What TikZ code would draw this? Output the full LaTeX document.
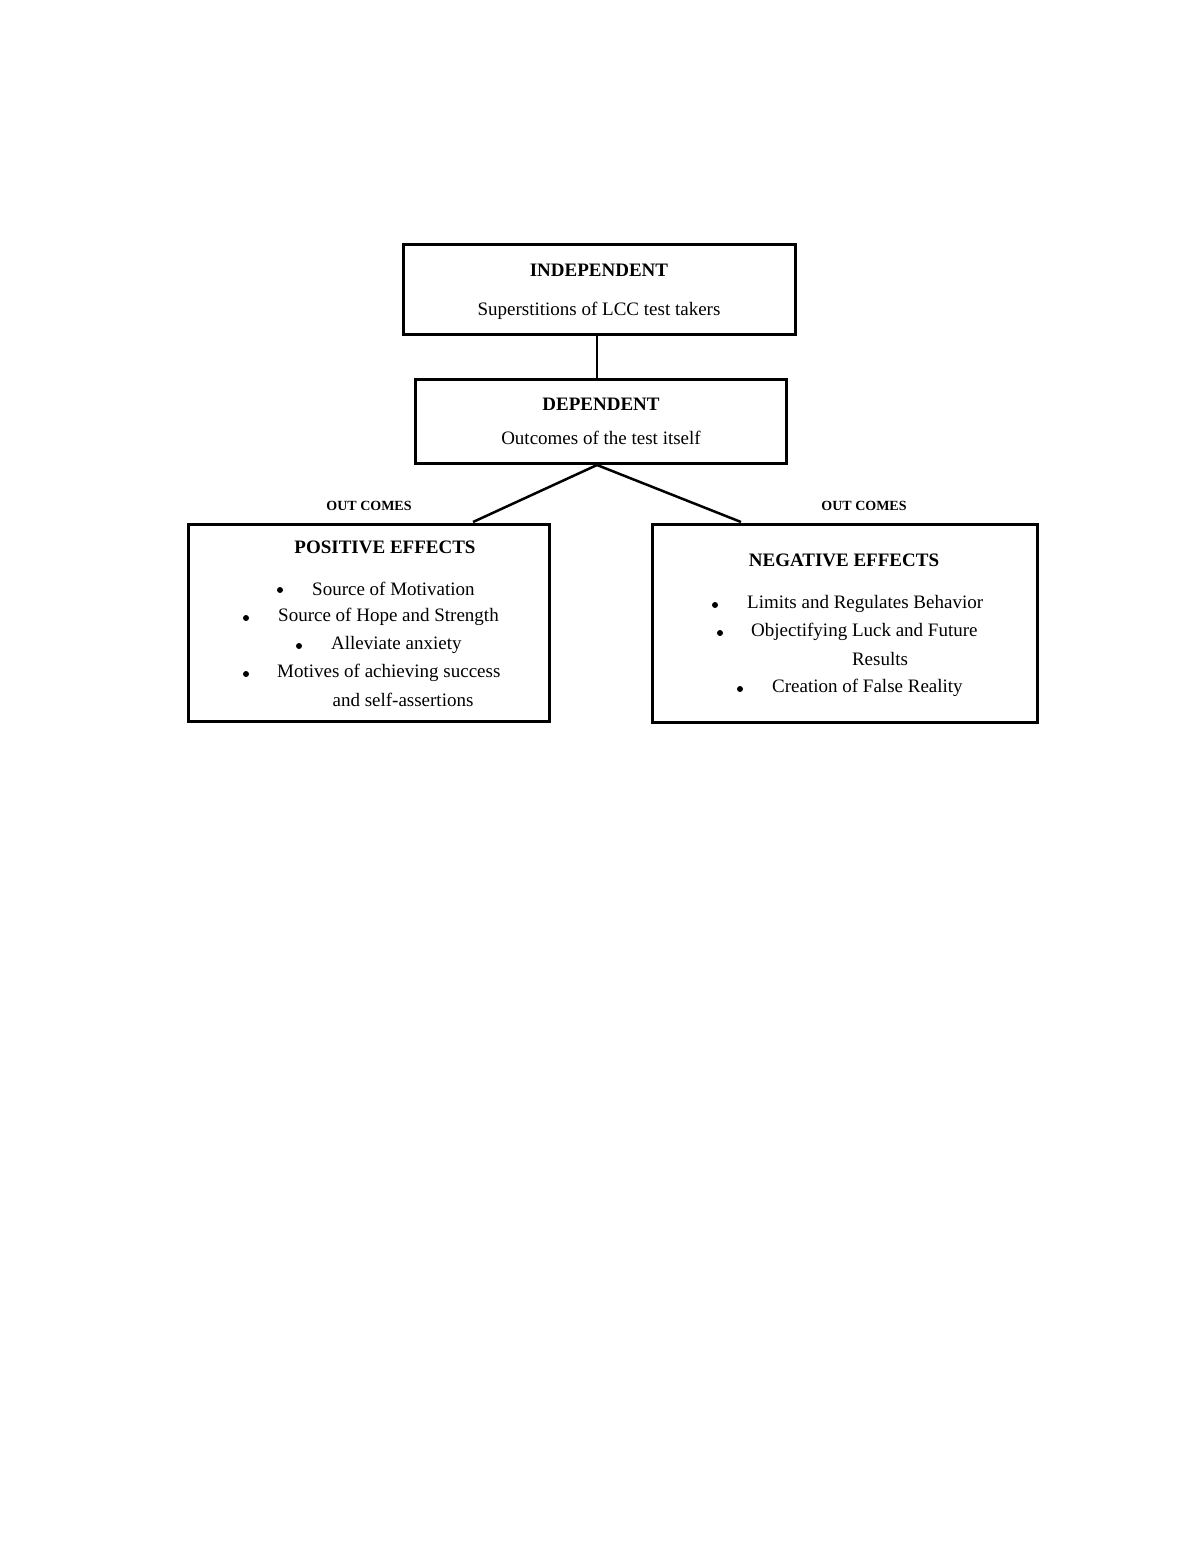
\documentclass[tikz,border=0pt]{standalone}
\usepackage{fontspec}
\setmainfont{Liberation Serif}
\begin{document}
\begin{tikzpicture}[x=1pt,y=-1pt,
  box/.style={draw,line width=3pt},
  link/.style={line width=2.5pt},
  txt/.style={font=\fontsize{19}{22}\selectfont,inner sep=0pt},
  hd/.style={font=\fontsize{19}{22}\selectfont\bfseries,inner sep=0pt},
  oc/.style={font=\fontsize{14}{16}\selectfont\bfseries,inner sep=0pt},
  bul/.style={circle,fill,inner sep=0pt,minimum size=6pt}]
\useasboundingbox (0,0) rectangle (1200,1553);
\node[box,minimum width=392pt,minimum height=90pt] (ind) at (599,289) {};
\node[box,minimum width=371pt,minimum height=84pt] (dep) at (600.5,421) {};
\node[box,minimum width=361pt,minimum height=197pt] (pos) at (368.5,622.5) {};
\node[box,minimum width=385pt,minimum height=198pt] (neg) at (844.5,623) {};
\coordinate (dtop) at (597,379);
\coordinate (ibot) at (597,334);
\coordinate (dbot) at (597,465);
\coordinate (pl) at (473,522);
\coordinate (nl) at (741,522);
\draw[link] (ibot) -- (dtop);
\draw[link] (dbot) -- (pl);
\draw[link] (dbot) -- (nl);
\node[hd] (t1) at (599,270) {INDEPENDENT};
\node[txt] (t2) at (599,311) {Superstitions of LCC test takers};
\node[hd] (t3) at (601,404) {DEPENDENT};
\node[txt] (t4) at (601,438) {Outcomes of the test itself};
\node[oc] (o1) at (369,506) {OUT COMES};
\node[oc] (o2) at (864,506) {OUT COMES};
\node[hd] (p0) at (385,547) {POSITIVE EFFECTS};
\node[bul] (b1) at (280,590) {}; \node[txt,anchor=west] (p1) at (312,589) {Source of Motivation};
\node[bul] (b2) at (246,618) {}; \node[txt,anchor=west] (p2) at (278,617) {Source of Hope and Strength};
\node[bul] (b3) at (299,646) {}; \node[txt,anchor=west] (p3) at (331,645) {Alleviate anxiety};
\node[bul] (b4) at (246,674) {}; \node[txt,anchor=west] (p4) at (277,673) {Motives of achieving success};
\node[txt] (p5) at (403,700) {and self-assertions};
\node[hd] (n0) at (844,560) {NEGATIVE EFFECTS};
\node[bul] (c1) at (715,605) {}; \node[txt,anchor=west] (n1) at (747,604) {Limits and Regulates Behavior};
\node[bul] (c2) at (720,633) {}; \node[txt,anchor=west] (n2) at (751,632) {Objectifying Luck and Future};
\node[txt] (n3) at (880,659) {Results};
\node[bul] (c3) at (740,689) {}; \node[txt,anchor=west] (n4) at (772,688) {Creation of False Reality};
\end{tikzpicture}
\end{document}
